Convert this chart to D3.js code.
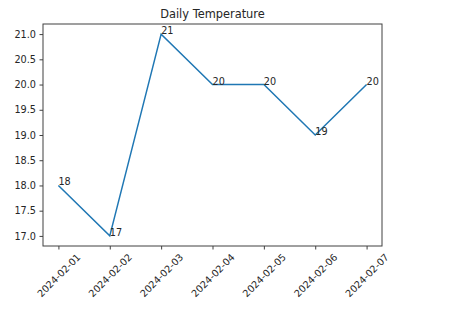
<!DOCTYPE html>
<html lang="en">
<head>
    <meta charset="UTF-8">
    <title>Daily Temperature</title>
    <script src="https://d3js.org/d3.v7.min.js"></script>
    <style>
        body { margin: 0; background: #fff; font-family: "DejaVu Sans", sans-serif; }
        .tick text { font-size: 9.7px; fill: #262626; font-family: "DejaVu Sans", sans-serif; }
        .tick line, .domain { stroke: #404040; }
        .label { font-size: 9.7px; fill: #262626; }
    </style>
</head>
<body>
    <svg width="474" height="323"></svg>
    <script>
        // data
        const dates = ["2024-02-01", "2024-02-02", "2024-02-03", "2024-02-04", "2024-02-05", "2024-02-06", "2024-02-07"];
        const temps = [18, 17, 21, 20, 20, 19, 20];
        const yTicks = [17.0, 17.5, 18.0, 18.5, 19.0, 19.5, 20.0, 20.5, 21.0];

        const margin = { top: 24, right: 92, bottom: 77, left: 43 },
            width = 474 - margin.left - margin.right,
            height = 323 - margin.top - margin.bottom;

        const svg = d3.select("svg")
            .append("g")
            .attr("transform", `translate(${margin.left},${margin.top})`);

        const data = dates.map((d, i) => ({ date: d, idx: i, temp: temps[i] }));

        // matplotlib style 5% padding
        const x = d3.scaleLinear().domain([-0.3, dates.length - 1 + 0.3]).range([0, width]);
        const y = d3.scaleLinear().domain([16.8, 21.2]).range([height, 0]);

        // frame
        svg.append("rect")
            .attr("width", width).attr("height", height)
            .attr("fill", "none").attr("stroke", "#404040").attr("stroke-width", 1);

        const xAxis = svg.append("g")
            .attr("transform", `translate(0,${height})`)
            .call(d3.axisBottom(x).tickValues(d3.range(dates.length)).tickFormat(i => dates[i]).tickSize(3.5).tickPadding(3.5));
        xAxis.select(".domain").remove();
        xAxis.selectAll(".tick text")
            .each(function () {
                const t = d3.select(this);
                const w = this.getComputedTextLength();
                const off = (w * 0.707 + 7 * 0.707) / 2 + 7;
                t.attr("text-anchor", "middle")
                    .attr("y", 0).attr("dy", "0.35em")
                    .attr("transform", `translate(0,${off}) rotate(-45)`);
            });

        const yAxis = svg.append("g")
            .call(d3.axisLeft(y).tickValues(yTicks).tickFormat(d3.format(".1f")).tickSize(3.5).tickPadding(3.5));
        yAxis.select(".domain").remove();

        svg.append("text")
            .attr("x", width / 2).attr("y", -6)
            .attr("text-anchor", "middle")
            .attr("font-size", "11.4px")
            .attr("fill", "#262626")
            .text("Daily Temperature");

        const line = d3.line().x(d => x(d.idx)).y(d => y(d.temp));
        svg.append("path")
            .datum(data)
            .attr("fill", "none")
            .attr("stroke", "#1f77b4")
            .attr("stroke-width", 1.5)
            .attr("d", line);

        svg.selectAll(".label")
            .data(data)
            .enter().append("text")
            .attr("class", "label")
            .attr("x", d => x(d.idx))
            .attr("y", d => y(d.temp))
            .text(d => d.temp);
    </script>
</body>
</html>
